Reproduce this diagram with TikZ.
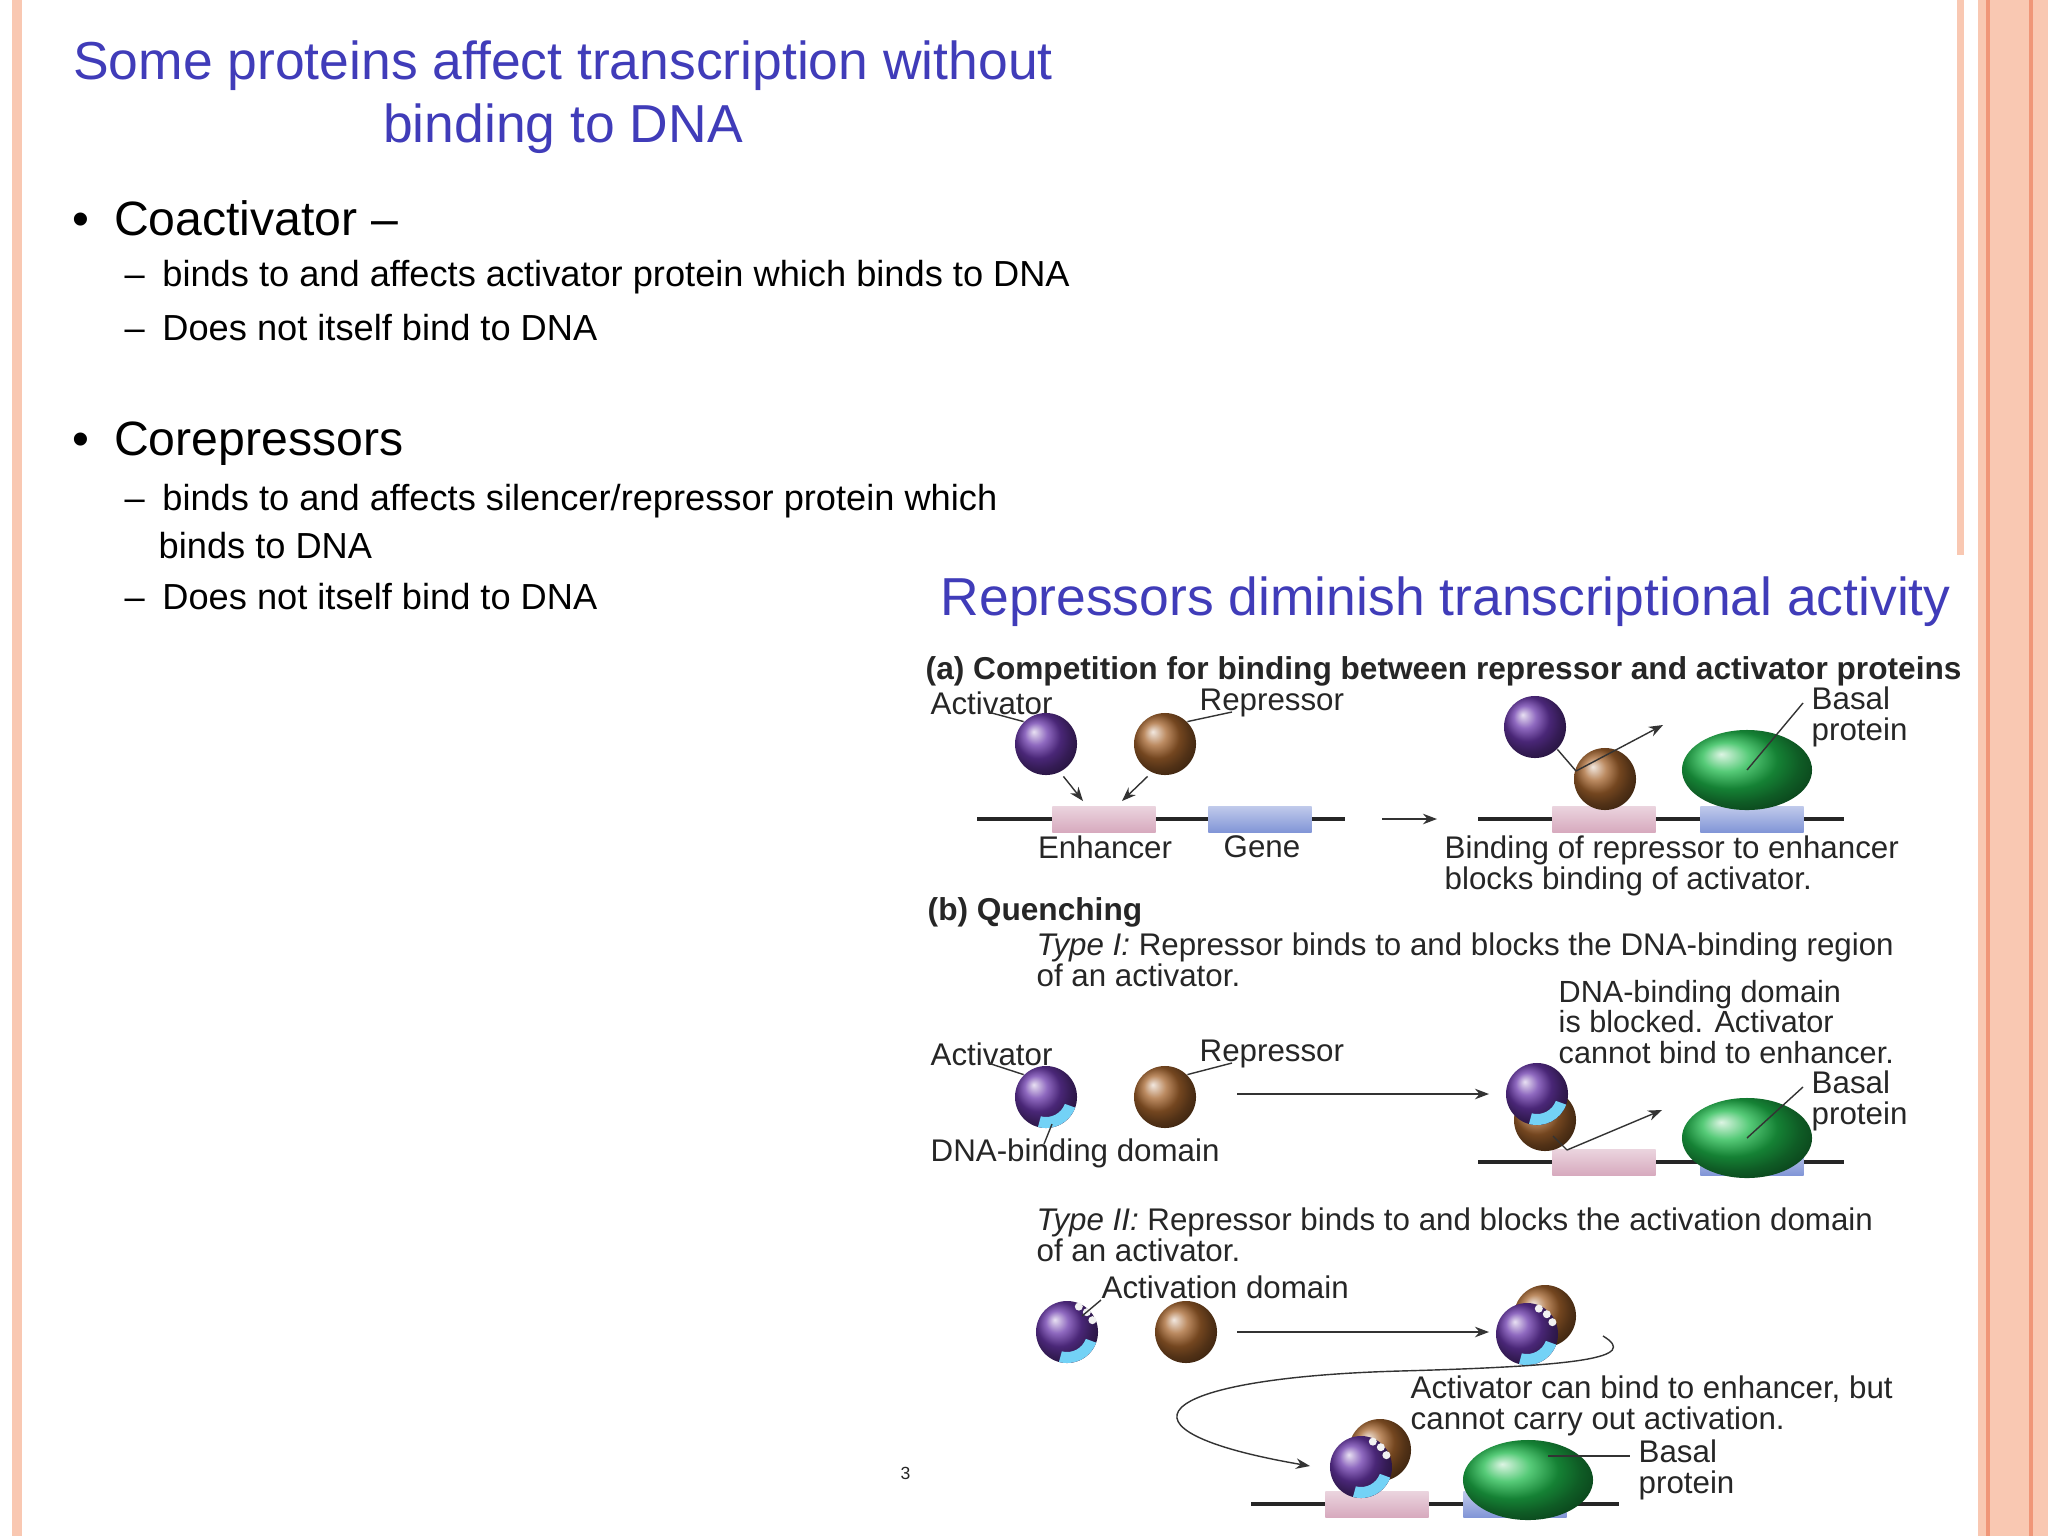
\documentclass[tikz,border=0pt]{standalone}
\usepackage{fontspec}
\setmainfont{Liberation Sans}
\usetikzlibrary{shapes.geometric,arrows.meta}
\definecolor{ttl}{RGB}{64,60,185}
\definecolor{salm}{RGB}{249,200,178}
\definecolor{salmd}{RGB}{240,150,120}
\definecolor{purp}{RGB}{105,55,170}
\definecolor{brwn}{RGB}{165,100,45}
\definecolor{grn}{RGB}{30,185,75}
\definecolor{pinkb}{RGB}{215,170,190}
\definecolor{blueb}{RGB}{130,150,215}
\tikzset{
 ttlf/.style={text=ttl,font=\fontsize{15.2}{17}\selectfont},
 bul/.style={anchor=west,font=\fontsize{13.7}{15}\selectfont,inner sep=0},
 sub/.style={anchor=west,font=\fontsize{10.3}{13.5}\selectfont,inner sep=0,align=left},
 fig/.style={anchor=west,font=\fontsize{8.9}{8.8}\selectfont,inner sep=0,align=left,text=black!85},
 actb/.style={circle,ball color=purp,minimum size=0.62cm,inner sep=0},
 repb/.style={circle,ball color=brwn,minimum size=0.62cm,inner sep=0},
 basal/.style={ellipse,ball color=grn,minimum width=1.3cm,minimum height=0.8cm,inner sep=0},
 enh/.style={rectangle,top color=pinkb!50,bottom color=pinkb,minimum width=1.03cm,minimum height=0.26cm,inner sep=0},
 gen/.style={rectangle,top color=blueb!50,bottom color=blueb,minimum width=1.03cm,minimum height=0.26cm,inner sep=0},
 dna/.style={line width=1.3pt,black!85},
 ldr/.style={thin,black!80},
 arr/.style={thin,black!80,-{Stealth[length=4pt]}},
}
\newcommand\dbd[1]{\begin{scope}[shift={(#1)},x=1cm,y=1cm]\fill[cyan!55] (-20:0.31) arc[start angle=-20,end angle=-105,radius=0.31] -- (-105:0.2) arc[start angle=-105,end angle=-20,radius=0.2] -- cycle;\end{scope}}
\newcommand\notch[1]{\begin{scope}[shift={(#1)},x=1cm,y=1cm]\foreach \a in {25,45,65}{\fill[white!90!gray] (\a:0.28) circle[radius=0.04];}\end{scope}}
\begin{document}
\begin{tikzpicture}[x=0.01cm,y=-0.01cm]
\useasboundingbox (0,0) rectangle (2048,1536);
\fill[white] (0,0) rectangle (2048,1536);
% borders
\fill[salm] (12,0) rectangle (22,1536);
\fill[salm] (1978,0) rectangle (2048,1536);
\draw[salmd,line width=1pt] (1988,0) -- (1988,1536);
\draw[salmd,line width=1pt] (2031,0) -- (2031,1536);
\fill[salm] (1957,0) rectangle (1964,555);
% left text
\node[ttlf,align=center] (t1) at (563,97) {Some proteins affect transcription without\\[1pt] binding to DNA};
\node[bul] (b1) at (72,218) {\textbullet\hspace{7pt}Coactivator –};
\node[sub] (s1) at (124,277) {–\hspace{5pt}binds to and affects activator protein which binds to DNA};
\node[sub] (s2) at (124,328) {–\hspace{5pt}Does not itself bind to DNA};
\node[bul] (b2) at (72,444) {\textbullet\hspace{7pt}Corepressors};
\node[sub] (s3) at (124,501) {–\hspace{5pt}binds to and affects silencer/repressor protein which};
\node[sub] (s3b) at (158,546) {binds to DNA};
\node[sub] (s4) at (124,597) {–\hspace{5pt}Does not itself bind to DNA};
% figure
\node[ttlf,anchor=west,inner sep=0] (t2) at (940,602) {Repressors diminish transcriptional activity};
\node[fig,font=\fontsize{9}{10}\selectfont\bfseries] (ha) at (925,671) {(a) Competition for binding between repressor and activator proteins};
\node[fig] (la1) at (930,703) {Activator};
\node[fig] (lr1) at (1199,703) {Repressor};
\node[actb] (a1) at (1046,744) {};
\node[repb] (r1) at (1165,744) {};
\draw[ldr] (988,712) -- (a1.north west);
\draw[ldr] (1232,712) -- (r1.north east);
\draw[dna] (977,819) -- (1345,819);
\node[enh] (e1) at (1104,819) {};
\node[gen] (g1) at (1260,819) {};
\draw[arr] (a1.south east) ++(-5,10) coordinate (aa) (aa) -- (1083,801);
\draw[arr] (r1.south west) ++(5,10) coordinate (rr) (rr) -- (1122,801);
\node[fig,anchor=center] (le) at (1105,847) {Enhancer};
\node[fig,anchor=center] (lg) at (1262,847) {Gene};
\coordinate (m1) at (1382,819); \coordinate (m2) at (1437,819);
\draw[arr] (m1) -- (m2);
\draw[dna] (1478,819) -- (1844,819);
\node[enh] (e2) at (1604,819) {};
\node[gen] (g2) at (1752,819) {};
\node[actb] (a2) at (1535,727) {};
\node[repb] (r2) at (1605,779) {};
\node[basal] (bp1) at (1747,770) {};
\coordinate (k1) at (1576,771); \coordinate (k2) at (1663,725);
\draw[ldr] (a2.south east) -- (k1);
\draw[arr] (k1) -- (k2);
\node[fig] (lb1) at (1811,717) {Basal\\protein};
\draw[ldr] (1803,703) -- (bp1.center);
\node[fig,anchor=north west] (cap1) at (1444,835) {Binding of repressor to enhancer\\blocks binding of activator.};
% (b)
\node[fig,font=\fontsize{9}{10}\selectfont\bfseries] (hb) at (927,912) {(b) Quenching};
\node[fig] (ty1) at (1036,960) {\textit{Type I:} Repressor binds to and blocks the DNA-binding region\\of an activator.};
\node[fig,font=\fontsize{8.7}{8.6}\selectfont] (cap2) at (1558,1022) {DNA-binding domain\\is blocked. Activator\\cannot bind to enhancer.};
\node[fig] (la3) at (930,1054) {Activator};
\node[fig] (lr3) at (1199,1054) {Repressor};
\node[actb] (a3) at (1046,1097) {};
\dbd{a3}
\node[repb] (r3) at (1165,1097) {};
\draw[ldr] (988,1063) -- (a3.north west);
\draw[ldr] (1232,1063) -- (r3.north east);
\node[fig] (ld3) at (930,1153) {DNA-binding domain};
\draw[ldr] (1052,1124) -- (1044,1144);
\coordinate (m3) at (1237,1094); \coordinate (m4) at (1489,1094);
\draw[arr] (m3) -- (m4);
\draw[dna] (1478,1162) -- (1844,1162);
\node[enh] (e4) at (1604,1162) {};
\node[gen] (g4) at (1752,1162) {};
\node[basal] (bp2) at (1747,1138) {};
\node[repb] (r4) at (1545,1120) {};
\node[actb] (a4) at (1537,1094) {};
\dbd{a4}
\coordinate (k3) at (1567,1150); \coordinate (k4) at (1662,1110);
\draw[ldr] (1553,1136) -- (k3);
\draw[arr] (k3) -- (k4);
\node[fig] (lb2) at (1811,1101) {Basal\\protein};
\draw[ldr] (1803,1087) -- (bp2.center);
% type II
\node[fig] (ty2) at (1036,1235) {\textit{Type II:} Repressor binds to and blocks the activation domain\\of an activator.};
\node[fig] (lad) at (1101,1287) {Activation domain};
\node[actb] (a5) at (1067,1332) {};
\dbd{a5}\notch{a5}
\draw[ldr] (1101,1300) -- (1082,1316);
\node[repb] (r5) at (1186,1332) {};
\coordinate (m5) at (1237,1332); \coordinate (m6) at (1489,1332);
\draw[arr] (m5) -- (m6);
\node[repb] (r6) at (1545,1316) {};
\node[actb] (a6) at (1527,1334) {};
\dbd{a6}\notch{a6}
\coordinate (cs) at (1603,1336); \coordinate (ce) at (1310,1466);
\draw[arr] (cs) .. controls (1640,1358) and (1580,1366) .. (1400,1371) .. controls (1150,1378) and (1100,1430) .. (ce);
\node[fig,anchor=north west] (cap3) at (1410,1375) {Activator can bind to enhancer, but\\cannot carry out activation.};
\draw[dna] (1251,1504) -- (1619,1504);
\node[enh] (e7) at (1377,1504) {};
\node[gen] (g7) at (1515,1504) {};
\node[basal] (bp3) at (1528,1480) {};
\node[repb] (r7) at (1380,1450) {};
\node[actb] (a7) at (1361,1467) {};
\dbd{a7}\notch{a7}
\node[fig] (lb3) at (1638,1470) {Basal\\protein};
\coordinate (bl) at (1548,1456);
\draw[ldr] (bl) -- (1630,1456);
\node[fig,font=\fontsize{5}{6}\selectfont] (pg) at (900,1473) {3};
\end{tikzpicture}
\end{document}
